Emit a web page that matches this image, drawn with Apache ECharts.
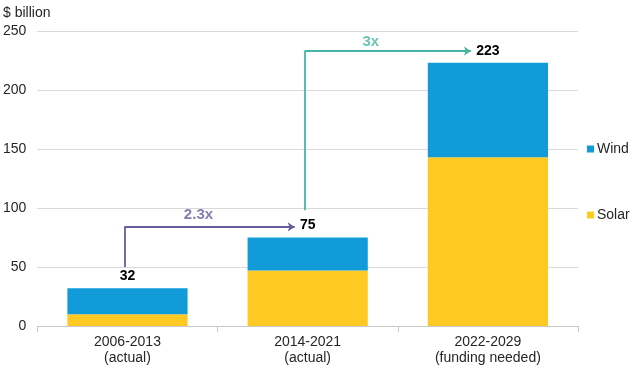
<!DOCTYPE html>
<html>
<head>
<meta charset="utf-8">
<script src="https://cdn.jsdelivr.net/npm/echarts@6/dist/echarts.min.js"></script>
<style>html,body{margin:0;padding:0;background:#fff}#c{width:640px;height:371px}</style>
</head>
<body>
<div id="c"></div>
<script>
// ---- data ----
var categories = ['2006-2013\n(actual)', '2014-2021\n(actual)', '2022-2029\n(funding needed)'];
var solar = [10, 47, 143];
var wind = [22, 28, 80];
var yTicks = [0, 50, 100, 150, 200, 250];
var unitLabel = '$ billion';
// growth annotations (in data coordinates: x in category units, 0..3)
var growthLabels = ['2.3x', '3x'];
var growthFrom = [[0.483, 50], [1.483, 98]];
var growthCorner = [[0.483, 84], [1.483, 233]];
var growthTo = [[1.428, 84], [2.406, 233]];
var growthTextPos = [[0.894, 94], [1.85, 241]];

var FONT = 'Liberation Sans, Arial, sans-serif';
var BLUE = '#119CD9', YELLOW = '#FEC923';
var annColors = ['#6B5A9C', '#47B5A3'];

var chart = echarts.init(document.getElementById('c'), null, {renderer: 'canvas'});

var annSeries = [];
growthLabels.forEach(function (lab, i) {
  annSeries.push({
    type: 'line', xAxisIndex: 1, yAxisIndex: 0, data: [], silent: true,
    markLine: {
      silent: true, animation: false,
      label: {show: false},
      lineStyle: {color: annColors[i], width: 1.8, type: 'solid'},
      symbolSize: 7,
      data: [
        [{coord: growthFrom[i], symbol: 'none'}, {coord: growthCorner[i], symbol: 'none'}],
        [{coord: growthCorner[i], symbol: 'none'}, {coord: growthTo[i], symbol: 'arrow'}]
      ]
    }
  });
  annSeries.push({
    type: 'scatter', xAxisIndex: 1, yAxisIndex: 0, symbolSize: 0, silent: true,
    data: [[growthTextPos[i][0], growthTextPos[i][1], lab]],
    label: {show: true, position: 'inside', formatter: function (p) { return p.value[2]; },
      color: annColors[i], fontFamily: FONT, fontSize: 15, fontWeight: 'bold'}
  });
});

var option = {
  animation: false,
  textStyle: {fontFamily: FONT},
  title: {text: unitLabel, left: -2, top: 1, textStyle: {fontFamily: FONT, fontSize: 14, fontWeight: 'normal', color: '#262626'}},
  grid: {left: 37, right: 62, top: 31, bottom: 45, containLabel: false},
  legend: {
    orient: 'vertical', left: 582, top: 137, itemWidth: 7, itemHeight: 7, itemGap: 52,
    icon: 'rect', data: ['Wind', 'Solar'],
    textStyle: {fontFamily: FONT, fontSize: 14, color: '#262626', lineHeight: 14, padding: [0, 0, 0, -2]}
  },
  xAxis: [{
    type: 'category', data: categories,
    axisLine: {lineStyle: {color: '#c8c8c8', width: 1}},
    axisTick: {show: true, length: 6, lineStyle: {color: '#c8c8c8'}},
    axisLabel: {fontFamily: FONT, fontSize: 14, color: '#262626', lineHeight: 16, margin: 8}
  }, {
    type: 'value', min: 0, max: 3, show: false, gridIndex: 0
  }],
  yAxis: {
    type: 'value', min: yTicks[0], max: yTicks[yTicks.length - 1], interval: yTicks[1] - yTicks[0],
    axisLine: {show: false}, axisTick: {show: false},
    splitLine: {lineStyle: {color: '#d9d9d9', width: 1}},
    axisLabel: {fontFamily: FONT, fontSize: 14, color: '#262626', margin: 11}
  },
  series: [{
    name: 'Solar', type: 'bar', stack: 'total', data: solar, barWidth: '66.7%',
    itemStyle: {color: YELLOW}
  }, {
    name: 'Wind', type: 'bar', stack: 'total', data: wind, barWidth: '66.7%',
    itemStyle: {color: BLUE},
    label: {show: true, position: 'top', distance: 5,
      formatter: function (p) { return String(solar[p.dataIndex] + wind[p.dataIndex]); },
      color: '#000', fontFamily: FONT, fontSize: 14, fontWeight: 'bold'}
  }].concat(annSeries)
};
chart.setOption(option);
</script>
</body>
</html>
